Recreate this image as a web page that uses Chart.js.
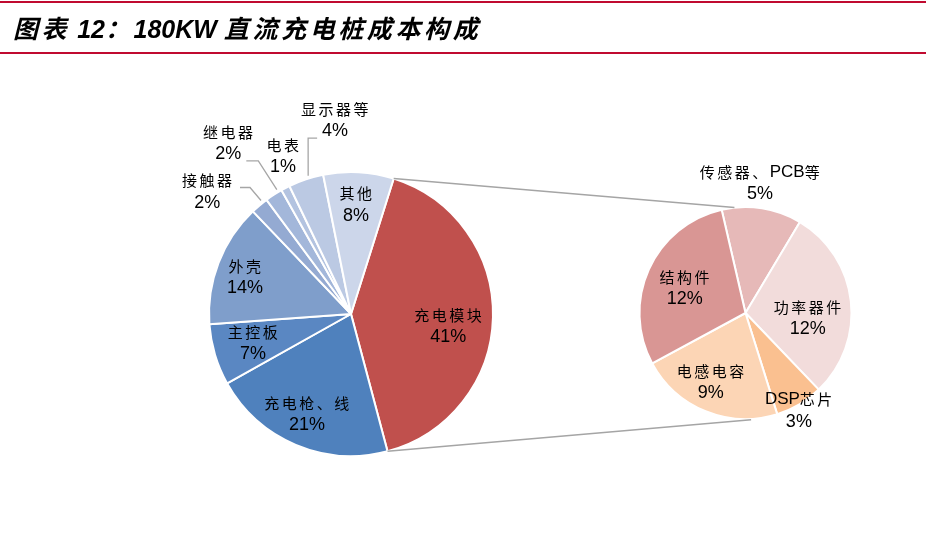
<!DOCTYPE html>
<html>
<head>
<meta charset="utf-8">
<script src="https://cdn.jsdelivr.net/npm/chart.js@4.4.1/dist/chart.umd.min.js"></script>
<style>
  html, body { margin: 0; padding: 0; background: #fff; }
  #wrap { position: relative; width: 926px; height: 552px; overflow: hidden; }
  canvas { position: absolute; left: 0; top: 0; }
</style>
</head>
<body>
<div id="wrap">
  <canvas id="mainPie" width="926" height="552"></canvas>
  <canvas id="subPie" width="926" height="552"></canvas>
</div>
<script>
const titleText = '图表 12：180KW 直流充电桩成本构成';

// 主饼图：180KW 直流充电桩成本构成（%）
const mainLabels = ['充电模块', '充电枪、线', '主控板', '外壳', '接触器', '继电器', '电表', '显示器等', '其他'];
const mainValues = [41, 21, 7, 14, 2, 2, 1, 4, 8];
const mainColors = ['#C0504D', '#4F81BD', '#5A87C2', '#7F9ECB', '#94AAD2', '#A3B7DA', '#B3C3E0', '#BBC9E3', '#CCD6EA'];

// 子饼图：充电模块拆分（占总成本 %）
const subLabels = ['传感器、PCB等', '功率器件', 'DSP芯片', '电感电容', '结构件'];
const subValues = [5, 12, 3, 9, 12];
const subColors = ['#E6B9B8', '#F2DCDB', '#FAC090', '#FCD5B5', '#D99694'];

// 标签摆放（半径系数 rf、相对扇区中线的角度偏移 da，单位度）
const mainPlace = [
  { rf: 0.69, da: 5.7 },
  { rf: 0.77, da: 0.8 },
  { rf: 0.72, da: 0.2 },
  { rf: 0.79, da: -1.9 },
  { rf: 1.33, da: -9.5, lead: { a: 1.7, er: 1.14, ea: 1.5, tail: -10 } },
  { rf: 1.48, da: -2.8, lead: { a: 2.1, er: 1.26, ea: 1.7, tail: -12 } },
  { rf: 1.21, da: 4.2 },
  { rf: 1.37, da: 13.8, lead: { a: 1.3, er: 1.275, ea: 4.8, tail: 9 } },
  { rf: 0.77, da: -0.5 },
];
const subPlace = [
  { rf: 1.23, da: -2.6 },
  { rf: 0.59, da: 11 },
  { rf: 1.05, da: 1.9 },
  { rf: 0.73, da: 4.6 },
  { rf: 0.62, da: -1.8 },
];

const cjkName = '15px "Noto Sans CJK SC", sans-serif';
const latName = '17px "Liberation Sans", Arial, sans-serif';
const numFont = '18px "Liberation Sans", Arial, sans-serif';

// 从饼图顶部顺时针的角度 -> 坐标
function polar(cx, cy, r, deg) {
  const a = deg * Math.PI / 180;
  return { x: cx + r * Math.sin(a), y: cy - r * Math.cos(a) };
}

// 中英混排：中文加字距，英文数字不加
function drawMixed(ctx, text, x, y, center, cjkFont, latFont, spacing) {
  const runs = text.match(/[\x00-\x7F]+|[^\x00-\x7F]+/g);
  const parts = runs.map(t => {
    const lat = /^[\x00-\x7F]+$/.test(t);
    ctx.font = lat ? latFont : cjkFont;
    ctx.letterSpacing = lat ? '0px' : spacing + 'px';
    return { t, lat, w: ctx.measureText(t).width };
  });
  const total = parts.reduce((s, p) => s + p.w, 0);
  let cx = center ? x - total / 2 : x;
  ctx.textAlign = 'left';
  parts.forEach(p => {
    ctx.font = p.lat ? latFont : cjkFont;
    ctx.letterSpacing = p.lat ? '0px' : spacing + 'px';
    ctx.fillText(p.t, cx, y);
    cx += p.w;
  });
  ctx.letterSpacing = '0px';
}

function drawLabels(chart, names, values, place) {
  const ctx = chart.ctx;
  const arcs = chart.getDatasetMeta(0).data;
  ctx.save();
  arcs.forEach((arc, i) => {
    const p = arc.getProps(['x', 'y', 'startAngle', 'endAngle', 'outerRadius'], true);
    const mid = (p.startAngle + p.endAngle) / 2 * 180 / Math.PI + 90;
    const R = p.outerRadius;
    const cfg = place[i];
    const c = polar(p.x, p.y, R * cfg.rf, mid + cfg.da);

    if (cfg.lead) {
      const a = polar(p.x, p.y, R * 1.02, mid + cfg.lead.a);
      const e = polar(p.x, p.y, R * cfg.lead.er, mid + cfg.lead.ea);
      ctx.beginPath();
      ctx.strokeStyle = '#A6A6A6';
      ctx.lineWidth = 1.3;
      ctx.moveTo(a.x, a.y);
      ctx.lineTo(e.x, e.y);
      ctx.lineTo(e.x + cfg.lead.tail, e.y);
      ctx.stroke();
    }

    ctx.fillStyle = '#000';
    ctx.textBaseline = 'middle';
    drawMixed(ctx, names[i], c.x + 1, c.y - 11, true, cjkName, latName, 2.5);
    ctx.font = numFont;
    ctx.textAlign = 'center';
    ctx.fillText(values[i] + '%', c.x, c.y + 11);
  });
  ctx.restore();
}

const headerPlugin = {
  id: 'header',
  afterDraw(chart) {
    const ctx = chart.ctx;
    ctx.save();
    ctx.fillStyle = '#C00A30';
    ctx.fillRect(0, 1, chart.width, 2);
    ctx.fillRect(0, 52, chart.width, 2);
    ctx.fillStyle = '#000';
    ctx.textBaseline = 'alphabetic';
    drawMixed(ctx, titleText, 13, 38, false,
      'italic bold 25px "Noto Sans CJK SC", sans-serif',
      'italic bold 25px "Liberation Sans", Arial, sans-serif', 3.6);
    ctx.restore();
  }
};

const mainLabelPlugin = {
  id: 'mainLabels',
  afterDatasetsDraw(chart) { drawLabels(chart, mainLabels, mainValues, mainPlace); }
};

const mainChart = new Chart(document.getElementById('mainPie'), {
  type: 'pie',
  data: {
    labels: mainLabels,
    datasets: [{
      data: mainValues,
      backgroundColor: mainColors,
      borderColor: '#fff',
      borderWidth: 2,
      radius: 142,
    }],
  },
  options: {
    responsive: false,
    devicePixelRatio: 1,
    animation: false,
    rotation: 17.5,
    layout: { padding: { left: 201, right: 425, top: 164, bottom: 88 } },
    plugins: { legend: { display: false }, tooltip: { enabled: false } },
  },
  plugins: [headerPlugin, mainLabelPlugin],
});

// 连接线：主饼图“充电模块”两条边 -> 子饼图上下
const connectorPlugin = {
  id: 'connector',
  afterDatasetsDraw(chart) {
    const big = mainChart.getDatasetMeta(0).data[0].getProps(['x', 'y', 'startAngle', 'endAngle', 'outerRadius'], true);
    const small = chart.getDatasetMeta(0).data[0].getProps(['x', 'y', 'outerRadius'], true);
    const R = big.outerRadius;
    const p1 = { x: big.x + R * Math.cos(big.startAngle), y: big.y + R * Math.sin(big.startAngle) };
    const p2 = { x: big.x + R * Math.cos(big.endAngle), y: big.y + R * Math.sin(big.endAngle) };
    const q1 = polar(small.x, small.y, small.outerRadius, -6);
    const q2 = polar(small.x, small.y, small.outerRadius + 1, 177);
    const ctx = chart.ctx;
    ctx.save();
    ctx.strokeStyle = '#A5A5A5';
    ctx.lineWidth = 1.5;
    ctx.beginPath();
    ctx.moveTo(p1.x, p1.y);
    ctx.lineTo(q1.x, q1.y);
    ctx.moveTo(p2.x, p2.y);
    ctx.lineTo(q2.x, q2.y);
    ctx.stroke();
    ctx.restore();
    drawLabels(chart, subLabels, subValues, subPlace);
  }
};

new Chart(document.getElementById('subPie'), {
  type: 'pie',
  data: {
    labels: subLabels,
    datasets: [{
      data: subValues,
      backgroundColor: subColors,
      borderColor: '#fff',
      borderWidth: 2,
      radius: 106,
    }],
  },
  options: {
    responsive: false,
    devicePixelRatio: 1,
    animation: false,
    rotation: -13,
    layout: { padding: { left: 635, right: 70, top: 203, bottom: 129 } },
    plugins: { legend: { display: false }, tooltip: { enabled: false } },
  },
  plugins: [connectorPlugin],
});
</script>
</body>
</html>
